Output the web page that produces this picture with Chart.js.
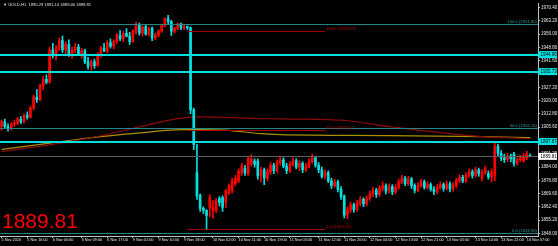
<!DOCTYPE html>
<html>
<head>
<meta charset="utf-8">
<script src="https://cdn.jsdelivr.net/npm/chart.js@4.4.0/dist/chart.umd.min.js"></script>
<style>
  html, body { margin: 0; padding: 0; background: #000; }
  #wrap { width: 558px; height: 246px; }
</style>
</head>
<body>
<div id="wrap"><canvas id="goldChart" width="558" height="246"></canvas></div>
<script>
// GOLD,H1 candles, one entry per hourly bar
const opens = [
  1906.0,1908.5,1906.0,1905.0,1907.5,1908.0,1910.0,1908.5,1912.0,1911.0,
  1916.0,1922.0,1920.5,1928.0,1931.5,1930.0,1947.5,1945.0,1948.5,1952.5,
  1947.5,1950.5,1945.0,1947.5,1949.0,1945.5,1947.0,1941.0,1938.5,1941.0,
  1939.0,1945.0,1948.5,1947.0,1951.5,1949.5,1952.0,1955.5,1953.5,1956.5,
  1955.0,1952.0,1957.5,1961.0,1956.5,1960.0,1956.0,1959.2,1954.0,1955.5,
  1957.6,1960.8,1964.5,1962.9,1957.6,1959.2,1961.6,1959.5,1959.9,1959.5,
  1915.0,1881.0,1868.5,1861.6,1860.5,1862.1,1860.5,1860.5,1866.9,1867.5,
  1864.8,1870.1,1871.2,1875.0,1876.5,1880.8,1883.5,1880.5,1885.6,1887.2,
  1887.2,1879.2,1882.5,1878.0,1881.5,1885.0,1882.0,1886.5,1888.0,1884.5,
  1882.0,1885.5,1887.5,1884.0,1886.0,1882.5,1884.5,1887.0,1889.0,1885.0,
  1882.5,1879.0,1881.0,1876.5,1874.0,1876.0,1872.0,1868.0,1858.0,1861.0,
  1863.5,1861.0,1864.5,1866.5,1864.0,1867.0,1869.5,1871.5,1869.0,1872.5,
  1874.0,1871.0,1873.5,1870.5,1873.0,1876.0,1878.0,1875.0,1877.5,1874.0,
  1871.5,1874.0,1876.0,1873.0,1874.5,1872.0,1870.5,1873.0,1874.5,1872.5,
  1875.0,1872.0,1874.0,1876.5,1878.5,1876.5,1879.5,1881.5,1879.5,1882.5,
  1878.0,1881.0,1880.5,1878.7,1879.2,1895.2,1891.5,1889.0,1888.0,1890.0,
  1891.0,1886.0,1888.0,1887.5,1889.0,1890.29
];
const highs = [
  1909.5,1910.0,1907.5,1908.0,1909.5,1911.0,1911.5,1913.0,1914.0,1917.0,
  1923.0,1926.0,1929.0,1933.0,1934.0,1949.0,1951.0,1950.0,1954.0,1955.0,
  1952.0,1953.0,1949.0,1951.0,1950.5,1948.5,1948.0,1943.5,1942.0,1942.5,
  1946.0,1949.5,1951.0,1952.5,1953.5,1953.0,1956.5,1958.0,1957.5,1959.0,
  1957.0,1958.5,1962.5,1962.0,1960.5,1961.0,1960.0,1960.0,1956.5,1958.5,
  1961.5,1965.0,1966.2,1963.5,1960.0,1962.0,1962.0,1960.8,1960.5,1960.0,
  1916.0,1896.3,1869.5,1862.5,1861.0,1869.0,1865.9,1867.0,1868.0,1868.5,
  1872.0,1875.0,1878.0,1879.5,1883.0,1886.0,1885.0,1889.5,1890.8,1888.5,
  1888.5,1884.0,1883.5,1883.0,1886.5,1886.0,1888.0,1890.0,1889.0,1886.0,
  1887.0,1889.0,1888.5,1887.5,1887.0,1886.0,1888.5,1891.0,1890.0,1886.5,
  1884.0,1882.5,1882.0,1878.0,1877.5,1877.0,1873.5,1869.0,1862.5,1865.0,
  1864.5,1866.0,1868.0,1867.5,1868.5,1871.0,1873.0,1872.5,1874.0,1876.0,
  1875.0,1875.0,1874.5,1874.5,1877.5,1879.5,1879.0,1879.0,1878.5,1875.0,
  1875.5,1877.5,1877.0,1876.0,1875.5,1873.5,1874.5,1876.0,1875.5,1876.5,
  1876.0,1875.5,1878.0,1880.0,1879.5,1881.0,1883.0,1882.5,1884.0,1883.5,
  1882.5,1884.5,1882.0,1883.0,1897.0,1896.5,1893.0,1891.0,1891.5,1891.0,
  1892.0,1889.0,1890.5,1891.5,1892.5,1891.16
];
const lows = [
  1904.0,1905.0,1903.5,1904.0,1906.0,1907.0,1907.5,1908.0,1910.0,1910.5,
  1915.0,1919.0,1920.0,1926.0,1929.0,1929.5,1943.0,1942.0,1947.0,1946.0,
  1945.5,1944.0,1943.0,1946.0,1944.5,1943.0,1940.0,1937.0,1936.5,1937.5,
  1938.5,1943.5,1946.5,1946.0,1948.5,1948.0,1951.0,1952.5,1952.0,1954.5,
  1950.5,1951.5,1956.0,1955.5,1955.0,1955.5,1955.0,1952.5,1953.0,1954.5,
  1957.0,1960.0,1961.5,1955.4,1956.5,1958.5,1958.5,1958.5,1958.5,1913.0,
  1893.5,1866.5,1860.0,1858.9,1849.9,1857.0,1856.3,1859.5,1863.0,1860.0,
  1862.0,1869.0,1870.0,1874.0,1875.5,1879.5,1879.5,1879.5,1884.5,1884.0,
  1877.5,1876.0,1874.5,1876.5,1880.0,1880.5,1881.0,1885.0,1883.5,1880.5,
  1881.0,1884.5,1883.0,1882.0,1881.0,1881.5,1883.5,1886.0,1884.0,1881.0,
  1878.0,1877.5,1875.5,1872.5,1873.0,1870.5,1866.5,1856.5,1856.0,1859.5,
  1859.5,1860.0,1863.0,1862.5,1863.0,1866.0,1868.0,1867.5,1868.0,1871.0,
  1869.5,1870.0,1869.0,1869.5,1872.0,1875.0,1874.0,1874.0,1872.5,1870.0,
  1870.5,1873.0,1872.0,1872.0,1871.0,1869.0,1869.5,1872.0,1871.0,1871.5,
  1870.5,1871.0,1873.0,1875.5,1875.5,1875.5,1878.5,1878.0,1878.5,1879.0,
  1876.5,1880.0,1877.5,1876.0,1876.5,1890.0,1887.5,1886.5,1887.0,1887.0,
  1884.5,1885.0,1887.0,1886.5,1888.0,1889.46
];
const closes = [
  1908.5,1906.0,1905.0,1907.5,1908.0,1910.0,1908.5,1912.0,1911.0,1916.0,
  1922.0,1920.5,1928.0,1931.5,1930.0,1947.5,1945.0,1948.5,1952.5,1947.5,
  1950.5,1945.0,1947.5,1949.0,1945.5,1947.0,1941.0,1938.5,1941.0,1939.0,
  1945.0,1948.5,1947.0,1951.5,1949.5,1952.0,1955.5,1953.5,1956.5,1955.0,
  1952.0,1957.5,1961.0,1956.5,1960.0,1956.0,1959.2,1954.0,1955.5,1957.6,
  1960.8,1964.5,1962.9,1957.6,1959.2,1961.6,1959.5,1959.9,1959.5,1915.0,
  1896.3,1868.5,1861.6,1860.5,1857.8,1867.5,1862.1,1865.9,1864.8,1862.1,
  1871.2,1873.9,1876.5,1878.1,1881.9,1884.5,1880.8,1888.8,1888.3,1885.6,
  1879.2,1882.5,1878.0,1881.5,1885.0,1882.0,1886.5,1888.0,1884.5,1882.0,
  1885.5,1887.5,1884.0,1886.0,1882.5,1884.5,1887.0,1889.0,1885.0,1882.5,
  1879.0,1881.0,1876.5,1874.0,1876.0,1872.0,1868.0,1858.0,1861.0,1863.5,
  1861.0,1864.5,1866.5,1864.0,1867.0,1869.5,1871.5,1869.0,1872.5,1874.0,
  1871.0,1873.5,1870.5,1873.0,1876.0,1878.0,1875.0,1877.5,1874.0,1871.5,
  1874.0,1876.0,1873.0,1874.5,1872.0,1870.5,1873.0,1874.5,1872.5,1875.0,
  1872.0,1874.0,1876.5,1878.5,1876.5,1879.5,1881.5,1879.5,1882.5,1880.5,
  1881.0,1883.0,1878.7,1881.5,1895.2,1891.5,1889.0,1888.0,1890.0,1888.5,
  1886.0,1888.0,1889.3,1890.0,1891.2,1889.81
];

// moving averages, read at a few bars
const maSlowBars = [0, 15, 31, 46, 56, 62, 81, 87, 108, 121, 150, 165];
const maSlowVals = [1892.5, 1896.0, 1901.0, 1907.0, 1910.5, 1911.2, 1910.3, 1910.1, 1909.1, 1905.9, 1900.5, 1899.5];
const maFastBars = [0, 15, 31, 46, 56, 62, 70, 81, 87, 121, 150, 165];
const maFastVals = [1893.6, 1897.0, 1900.5, 1903.0, 1904.3, 1904.3, 1904.0, 1902.1, 1901.6, 1901.1, 1900.5, 1900.0];

// time axis labels (bar index -> text)
const timeTickBars = [0, 8, 16, 25, 33, 41, 49, 57, 66, 74, 82, 90, 99, 107, 115, 123, 131, 139, 148, 156, 164];
const timeTickText = ['5 Nov 2020', '5 Nov 16:00', '6 Nov 00:00', '6 Nov 09:00', '6 Nov 17:00', '9 Nov 01:00',
  '9 Nov 10:00', '9 Nov 18:00', '10 Nov 02:00', '10 Nov 11:00', '10 Nov 19:00', '11 Nov 03:00', '11 Nov 12:00',
  '11 Nov 20:00', '12 Nov 04:00', '12 Nov 13:00', '12 Nov 21:00', '13 Nov 05:00', '13 Nov 14:00', '13 Nov 22:00',
  '16 Nov 07:00'];

// price axis
const priceTicks = [1848.00, 1855.20, 1862.40, 1869.60, 1876.80, 1884.00, 1891.20, 1898.40, 1905.60,
  1912.80, 1920.00, 1927.20, 1934.40, 1941.60, 1948.80, 1956.00, 1963.20, 1970.40];
const priceMin = 1846.67;
const priceMax = 1972.53;

// drawn objects
const hLinePrices = [1944.96, 1935.73, 1897.87];
const bidPrice = 1889.81;
const fibA = { levels: [100.0, 50.0, 0.0], prices: [1961.80, 1905.15, 1848.50] };
const fibB = { levels: [100.0, 50.0, 0.0], prices: [1957.61, 1904.01, 1850.41], fromBar: 58, toBar: 101 };
const symbolTitle = 'GOLD,H1  1890.29 1891.16 1889.46 1889.81';

const shiftBars = 2;
const categories = Array.from({ length: opens.length + shiftBars }, (_, i) => i);
const BULL = '#ff0000';
const BEAR = '#00e0e0';
const candleColors = opens.map((o, i) => closes[i] >= o ? BULL : BEAR);
const tickText = {};
timeTickBars.forEach((b, i) => { tickText[b] = timeTickText[i]; });

const mtOverlay = {
  id: 'mtOverlay',
  beforeDraw(chart) {
    const ctx = chart.ctx;
    ctx.save();
    ctx.fillStyle = '#000';
    ctx.fillRect(0, 0, chart.width, chart.height);
    ctx.restore();
  },
  afterDatasetsDraw(chart) {
    const { ctx, chartArea: a, scales: { x, y } } = chart;
    ctx.save();
    ctx.font = '4.2px "Liberation Sans", Arial, sans-serif';
    // fibo over the whole chart
    ctx.strokeStyle = '#238585';
    ctx.fillStyle = '#2a9a9a';
    ctx.lineWidth = 1.2;
    ctx.textAlign = 'right';
    fibA.prices.forEach((p, i) => {
      const py = Math.round(y.getPixelForValue(p)) + 0.5;
      ctx.beginPath(); ctx.moveTo(a.left, py); ctx.lineTo(a.right, py); ctx.stroke();
      ctx.fillText(fibA.levels[i].toFixed(1) + ' (' + p.toFixed(2) + ')', a.right - 1, py - 1.5);
    });
    // second fibo, drawn on the drop
    ctx.strokeStyle = '#a00000';
    ctx.fillStyle = '#c00000';
    ctx.lineWidth = 1;
    ctx.textAlign = 'left';
    const x0 = x.getPixelForValue(fibB.fromBar);
    const x1 = x.getPixelForValue(fibB.toBar);
    fibB.prices.forEach((p, i) => {
      const py = Math.round(y.getPixelForValue(p)) + 0.5;
      ctx.beginPath(); ctx.moveTo(x0, py); ctx.lineTo(x1, py); ctx.stroke();
      ctx.fillText(fibB.levels[i].toFixed(1) + ' (' + p.toFixed(2) + ')', x1 + 1, py - 1.5);
    });
    // horizontal lines
    ctx.strokeStyle = '#00dede';
    ctx.lineWidth = 2;
    hLinePrices.forEach(p => {
      const py = Math.round(y.getPixelForValue(p));
      ctx.beginPath(); ctx.moveTo(a.left, py); ctx.lineTo(a.right, py); ctx.stroke();
    });
    // bid line
    ctx.strokeStyle = '#5e5e5e';
    ctx.lineWidth = 1;
    const by = Math.round(y.getPixelForValue(bidPrice)) + 0.5;
    ctx.beginPath(); ctx.moveTo(a.left, by); ctx.lineTo(a.right, by); ctx.stroke();
    ctx.restore();
  },
  afterDraw(chart) {
    const { ctx, chartArea: a, scales: { y } } = chart;
    ctx.save();
    ctx.font = '4.5px "Liberation Sans", Arial, sans-serif';
    ctx.textBaseline = 'middle';
    ctx.textAlign = 'left';
    const box = (p, bg) => {
      const py = y.getPixelForValue(p);
      ctx.fillStyle = bg;
      ctx.fillRect(a.right, py - 3.5, 19, 7);
      ctx.fillStyle = '#000';
      ctx.fillText(p.toFixed(2), a.right + 2.5, py);
    };
    hLinePrices.forEach(p => box(p, '#00e0e0'));
    box(bidPrice, '#ffffff');
    // title
    ctx.textBaseline = 'alphabetic';
    ctx.fillStyle = '#e0e0e0';
    ctx.font = '4.1px "Liberation Sans", Arial, sans-serif';
    ctx.fillText('\u25BC ' + symbolTitle, a.left + 3, 6);
    // last price
    ctx.fillStyle = '#ff0000';
    ctx.font = '21px "Liberation Sans", Arial, sans-serif';
    ctx.fillText(bidPrice.toFixed(2), a.left + 2, a.bottom - 8);
    ctx.restore();
  }
};

new Chart(document.getElementById('goldChart'), {
  type: 'bar',
  data: {
    labels: categories,
    datasets: [
      {
        label: 'body',
        data: opens.map((o, i) => [o, closes[i]]),
        backgroundColor: candleColors,
        barThickness: 2,
        minBarLength: 1,
        grouped: false,
        order: 0
      },
      {
        label: 'wick',
        data: lows.map((l, i) => [l, highs[i]]),
        backgroundColor: candleColors,
        barThickness: 1,
        grouped: false,
        order: 1
      },
      {
        type: 'line',
        label: 'MA slow',
        data: maSlowBars.map((b, i) => ({ x: b, y: maSlowVals[i] })),
        borderColor: '#8c0a0a',
        borderWidth: 1.2,
        pointRadius: 0,
        cubicInterpolationMode: 'monotone',
        spanGaps: true,
        order: 2
      },
      {
        type: 'line',
        label: 'MA fast',
        data: maFastBars.map((b, i) => ({ x: b, y: maFastVals[i] })),
        borderColor: '#a89000',
        borderWidth: 1.2,
        pointRadius: 0,
        cubicInterpolationMode: 'monotone',
        spanGaps: true,
        order: 2
      }
    ]
  },
  options: {
    responsive: false,
    animation: false,
    devicePixelRatio: 1,
    layout: { padding: 0 },
    plugins: { legend: { display: false }, tooltip: { enabled: false }, title: { display: false } },
    scales: {
      x: {
        type: 'category',
        offset: true,
        afterBuildTicks: s => { s.ticks = timeTickBars.map(b => ({ value: b })); },
        afterFit: s => { s.height = 10; },
        grid: { drawOnChartArea: false, drawTicks: true, tickLength: 2, color: '#bdbdbd', offset: false },
        border: { display: true, color: '#bdbdbd', width: 1 },
        ticks: {
          autoSkip: false,
          maxRotation: 0,
          minRotation: 0,
          align: 'start',
          padding: 0,
          color: '#e6e6e6',
          font: { family: '"Liberation Sans", Arial, sans-serif', size: 3.8 },
          callback: v => tickText[v] ?? ''
        }
      },
      y: {
        position: 'right',
        min: priceMin,
        max: priceMax,
        afterBuildTicks: s => { s.ticks = priceTicks.map(v => ({ value: v })); },
        afterFit: s => { s.width = 20; },
        grid: { drawOnChartArea: false, drawTicks: true, tickLength: 2, color: '#bdbdbd' },
        border: { display: true, color: '#bdbdbd', width: 1 },
        ticks: {
          padding: 1,
          color: '#e6e6e6',
          font: { family: '"Liberation Sans", Arial, sans-serif', size: 4.5 },
          callback: v => Number(v).toFixed(2)
        }
      }
    }
  },
  plugins: [mtOverlay]
});
</script>
</body>
</html>
